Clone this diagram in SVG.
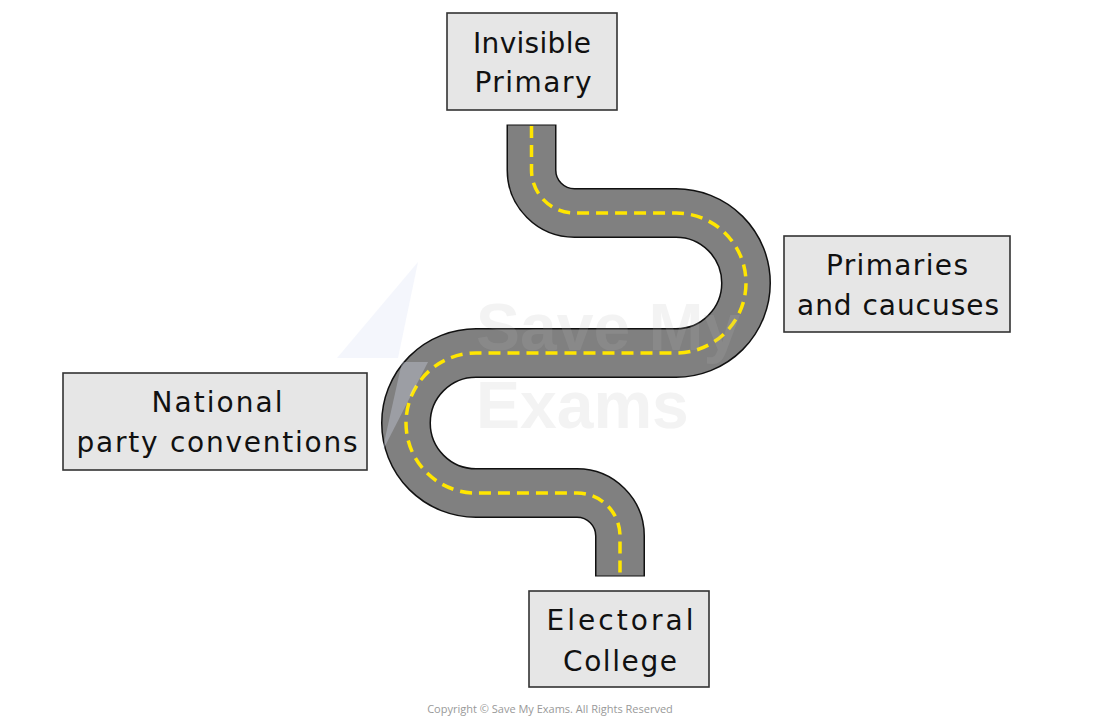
<svg xmlns="http://www.w3.org/2000/svg" width="1100" height="718" viewBox="0 0 1100 718">
<style>
.box{fill:#e6e6e6;stroke:#333;stroke-width:1.6}
.lbl{font-family:"DejaVu Sans","Liberation Sans",sans-serif;font-size:28px;fill:#111;text-anchor:middle}
.wm{font-family:"Liberation Sans","DejaVu Sans",sans-serif;font-weight:bold;font-size:66px;fill:#b8b8b8;opacity:0.16}
</style>
<rect width="1100" height="718" fill="#fff"/>
<g id="road">
<path d="M531.5 124.5 V170 A43 43 0 0 0 574.5 213 H676 A70 70 0 0 1 676 353 H476 A70 70 0 0 0 476 493 H577 A43 43 0 0 1 620 536 V576.5" fill="none" stroke="#111" stroke-width="50"/>
<path d="M531.5 125.6 V170 A43 43 0 0 0 574.5 213 H676 A70 70 0 0 1 676 353 H476 A70 70 0 0 0 476 493 H577 A43 43 0 0 1 620 536 V575.4" fill="none" stroke="#808080" stroke-width="47"/>
<path d="M531.5 126 V170 A43 43 0 0 0 574.5 213 H676 A70 70 0 0 1 676 353 H476 A70 70 0 0 0 476 493 H577 A43 43 0 0 1 620 536 V575" fill="none" stroke="#ffe600" stroke-width="3.5" stroke-dasharray="12 7"/>
</g>
<g id="watermark">
<polygon points="418,262 337,358 398,358" fill="#dfe6f7" opacity="0.35"/>
<polygon points="402,362 428,362 382,452" fill="#dfe6f7" opacity="0.3"/>
<text class="wm" x="476" y="350">Save My</text>
<text class="wm" x="476" y="428">Exams</text>
</g>
<g id="node-invisible-primary">
<rect class="box" x="447" y="13" width="170" height="97"/>
<text class="lbl" x="532" y="53" textLength="118" lengthAdjust="spacing">Invisible</text>
<text class="lbl" x="533" y="92" textLength="117" lengthAdjust="spacing">Primary</text>
</g>
<g id="node-primaries">
<rect class="box" x="784" y="236" width="226" height="96"/>
<text class="lbl" x="897" y="275" textLength="142" lengthAdjust="spacing">Primaries</text>
<text class="lbl" x="898" y="315" textLength="202" lengthAdjust="spacing">and caucuses</text>
</g>
<g id="node-conventions">
<rect class="box" x="63" y="373" width="304" height="97"/>
<text class="lbl" x="217" y="412" textLength="131" lengthAdjust="spacing">National</text>
<text class="lbl" x="217" y="452" textLength="281" lengthAdjust="spacing">party conventions</text>
</g>
<g id="node-electoral-college">
<rect class="box" x="529" y="591" width="180" height="96"/>
<text class="lbl" x="620" y="630" textLength="147" lengthAdjust="spacing">Electoral</text>
<text class="lbl" x="620" y="671" textLength="114" lengthAdjust="spacing">College</text>
</g>
<text x="550" y="713" font-family="'Open Sans','Liberation Sans',sans-serif" font-size="11" fill="#999" text-anchor="middle">Copyright © Save My Exams. All Rights Reserved</text>
</svg>
